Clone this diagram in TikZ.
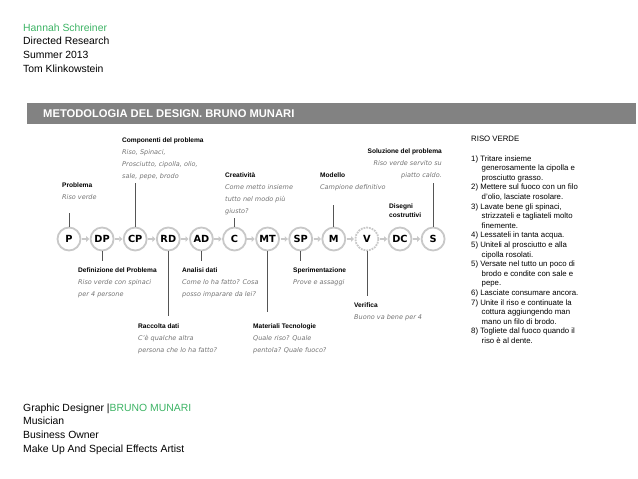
\documentclass[tikz,border=0pt]{standalone}
\usepackage{fontspec}
\setmainfont{Liberation Sans}
\newfontfamily\notefont{DejaVu Sans}
\usetikzlibrary{arrows.meta}
\definecolor{MunariGreen}{RGB}{60,179,100}
\definecolor{MunariBanner}{RGB}{130,130,130}
\definecolor{MunariRing}{RGB}{200,200,200}
\definecolor{MunariNote}{RGB}{115,115,115}
\definecolor{MunariTick}{RGB}{85,85,85}
\newcommand{\nt}[1]{{\notefont\mdseries\itshape\fontsize{6.5}{12}\selectfont\color{MunariNote}#1}}

\begin{document}
\begin{tikzpicture}[x=1pt,y=-1pt,
  stage/.style={circle,draw=MunariRing,line width=1.8pt,fill=white,minimum size=23pt,inner sep=0pt,font=\notefont\bfseries\fontsize{9.8}{10}\selectfont},
  flow/.style={draw=MunariRing,line width=2pt,-{Triangle[length=3pt,width=5.5pt]},shorten <=0.5pt,shorten >=0.5pt},
  tick/.style={draw=MunariTick,line width=0.8pt},
  lbl/.style={anchor=north west,inner sep=0pt,align=left,font=\bfseries\fontsize{6.6}{12}\selectfont},
  txt/.style={anchor=north west,inner sep=0pt,align=left,font=\fontsize{10.4}{13.7}\selectfont}]
\useasboundingbox (0,0) rectangle (638,479);
% header and footer
\node[txt] (head) at (23,23.5) {\textcolor{MunariGreen}{Hannah Schreiner}\\Directed Research\\Summer 2013\\Tom Klinkowstein};
\node[txt] (foot) at (23,403.5) {Graphic Designer |\textcolor{MunariGreen}{BRUNO MUNARI}\\Musician\\Business Owner\\Make Up And Special Effects Artist};
% banner
\fill[MunariBanner] (27,103) rectangle (636,124);
\node[anchor=west,inner sep=0pt,text=white,font=\bfseries\fontsize{11.2}{12}\selectfont] (title) at (43,114) {METODOLOGIA DEL DESIGN. BRUNO MUNARI};
% stages
\foreach \n/\b [count=\i from 0] in %
{P/solid,DP/solid,CP/solid,RD/solid,AD/solid,C/solid,MT/solid,SP/solid,M/solid,V/densely dotted,DC/solid,S/solid} {
   \node[stage,\b] (\n) at ({69+33.1*\i},239) {\n};
}
\foreach \a/\c in %
{P/DP,DP/CP,CP/RD,RD/AD,AD/C,C/MT,MT/SP,SP/M,M/V,V/DC,DC/S} {
   \draw[flow] (\a) -- (\c);
}
% ticks
\draw[tick] (P.north) -- ++(0,-14);
\draw[tick] (CP.north) -- ++(0,-44);
\draw[tick] (C.north) -- ++(0,-9);
\draw[tick] (M.north) -- ++(0,-22);
\draw[tick] (S.north) -- ++(0,-44);
\draw[tick] (DP.south) -- ++(0,10);
\draw[tick] (RD.south) -- ++(0,65);
\draw[tick] (AD.south) -- ++(0,10);
\draw[tick] (MT.south) -- ++(0,61);
\draw[tick] (SP.south) -- ++(0,10);
\draw[tick] (V.south) -- ++(0,45);
% labels
\node[lbl] (n0) at (62,182.5) {Problema\\\nt{Riso verde}};
\node[lbl] (n1) at (122,137.5) {Componenti del problema\\\nt{Riso, Spinaci,}\\\nt{Prosciutto, cipolla, olio,}\\\nt{sale, pepe, brodo}};
\node[lbl] (n2) at (225,172.5) {Creatività\\\nt{Come metto insieme}\\\nt{tutto nel modo più}\\\nt{giusto?}};
\node[lbl] (n3) at (320,172.5) {Modello\\\nt{Campione definitivo}};
\node[lbl,anchor=north east,align=right] (n4) at (442,148.5) {Soluzione del problema\\\nt{Riso verde servito su}\\\nt{piatto caldo.}};
\node[lbl,font=\bfseries\fontsize{6.6}{9.5}\selectfont] (n5) at (389,203.5) {Disegni\\costruttivi};
\node[lbl] (n6) at (78,267.5) {Definizione del Problema\\\nt{Riso verde con spinaci}\\\nt{per 4 persone}};
\node[lbl] (n7) at (182,267.5) {Analisi dati\\\nt{Come lo ha fatto? Cosa}\\\nt{posso imparare da lei?}};
\node[lbl] (n8) at (138,323.5) {Raccolta dati\\\nt{C’è qualche altra}\\\nt{persona che lo ha fatto?}};
\node[lbl] (n9) at (253,323.5) {Materiali Tecnologie\\\nt{Quale riso? Quale}\\\nt{pentola? Quale fuoco?}};
\node[lbl] (n10) at (293,267.5) {Sperimentazione\\\nt{Prove e assaggi}};
\node[lbl] (n11) at (354,302.5) {Verifica\\\nt{Buono va bene per 4}};
% recipe
\node[anchor=north west,inner sep=0pt,font=\fontsize{7.8}{9.6}\selectfont] (riso) at (471,136.2) {RISO VERDE};
\node[anchor=north west,inner sep=0pt,align=left,font=\fontsize{7.8}{9.6}\selectfont] (recipe) at (471,155.2) {%
1) Tritare insieme\\\hspace*{10.5pt}generosamente la cipolla e\\\hspace*{10.5pt}prosciutto grasso.\\
2) Mettere sul fuoco con un filo\\\hspace*{10.5pt}d’olio, lasciate rosolare.\\
3) Lavate bene gli spinaci,\\\hspace*{10.5pt}strizzateli e tagliateli molto\\\hspace*{10.5pt}finemente.\\
4) Lessateli in tanta acqua.\\
5) Uniteli al prosciutto e alla\\\hspace*{10.5pt}cipolla rosolati.\\
5) Versate nel tutto un poco di\\\hspace*{10.5pt}brodo e condite con sale e\\\hspace*{10.5pt}pepe.\\
6) Lasciate consumare ancora.\\
7) Unite il riso e continuate la\\\hspace*{10.5pt}cottura aggiungendo man\\\hspace*{10.5pt}mano un filo di brodo.\\
8) Togliete dal fuoco quando il\\\hspace*{10.5pt}riso è al dente.};
\end{tikzpicture}
\end{document}
